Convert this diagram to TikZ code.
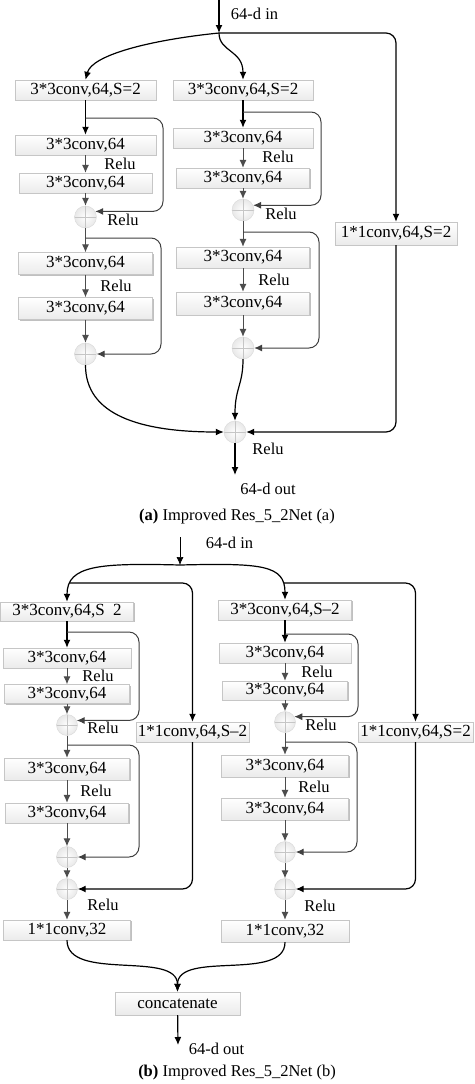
\documentclass[tikz,border=0pt]{standalone}
\usepackage{fontspec}
\setmainfont{Liberation Serif}
\usetikzlibrary{arrows.meta,shadows}
\begin{document}
\begin{tikzpicture}[x=1pt,y=-1pt,
  blk/.style={draw=gray!45, line width=0.4pt, top color=white, bottom color=gray!16,
    inner sep=0pt, minimum height=20pt, font=\fontsize{17}{19}\selectfont,
    drop shadow={shadow xshift=1.2pt,shadow yshift=-1.2pt,fill=gray!65,opacity=0.75}},
  sumc/.style={circle, minimum size=22pt, inner sep=0pt, draw=gray!30, inner color=white, outer color=gray!18,
    path picture={\draw[gray!45,line width=0.4pt] (path picture bounding box.west) -- (path picture bounding box.east)
      (path picture bounding box.north) -- (path picture bounding box.south);}},
  sumb/.style={sumc, minimum size=21pt},
  lbl/.style={font=\fontsize{16.5}{18}\selectfont, inner sep=0pt},
  tip/.style={-{Latex[length=8pt,width=7pt]}},
  main/.style={line width=1.2pt, black, tip},
  thin/.style={line width=0.7pt, black, tip},
  inner/.style={line width=1pt, black!70, tip},
  skip/.style={line width=1pt, black!75, rounded corners=10pt, tip},
  mskip/.style={line width=1.2pt, black, rounded corners=10pt, tip}
]
\fill[white] (0,0) rectangle (474,1084);
\useasboundingbox (0,0) rectangle (474,1084);

%%%%%%%%%%%%%%%% Part (a)
\node[blk, minimum width=141pt] (a1L) at (85.5,90) {3*3conv,64,S=2};
\node[blk, minimum width=140pt] (a1M) at (243,90) {3*3conv,64,S=2};
\node[blk, minimum width=141pt] (a2L) at (85.5,145) {3*3conv,64};
\node[blk, minimum width=133pt] (a3L) at (85.5,183) {3*3conv,64};
\node[sumc] (cL1) at (85.5,217) {};
\node[blk, minimum width=134pt, minimum height=22pt] (a4L) at (85.5,263.5) {3*3conv,64};
\node[blk, minimum width=134pt, minimum height=22pt] (a5L) at (85.5,308.5) {3*3conv,64};
\node[sumc] (cL2) at (85.5,354) {};
\node[blk, minimum width=140pt] (a2M) at (243,138) {3*3conv,64};
\node[blk, minimum width=133pt] (a3M) at (243,178) {3*3conv,64};
\node[sumc] (cM1) at (243,210) {};
\node[blk, minimum width=133pt, minimum height=21pt] (a4M) at (243,257.5) {3*3conv,64};
\node[blk, minimum width=133pt, minimum height=23pt] (a5M) at (243,303.5) {3*3conv,64};
\node[sumc] (cM2) at (243,348) {};
\node[blk, minimum width=122pt, minimum height=23pt] (aR) at (396,233.5) {1*1conv,64,S=2};
\node[sumc] (fin) at (235,432) {};

\coordinate (aTop) at (219,0);
\coordinate (J) at (219,33);
\coordinate (aOut) at (235,475);
\draw[main] (aTop) -- (J);
\node[lbl] (ainL) at (254.5,14) {64-d in};
\draw[main] (J) .. controls (150,40) and (92,55) .. (a1L.north);
\draw[main] (J) .. controls (219,52) and (243,50) .. (a1M.north);
\draw[mskip] (J) -- (J -| aR.north) -- (aR.north);
\draw[mskip] (aR.south) -- (aR.south |- fin) -- (fin.east);

\draw[main] (a1L) -- (a2L);
\draw[inner] (a2L) -- (a3L);
\draw[inner] (a3L) -- (cL1);
\draw[inner] (cL1) -- (a4L);
\draw[inner] (a4L) -- (a5L);
\draw[inner] (a5L) -- (cL2);
\draw[main] (a1M) -- (a2M);
\draw[inner] (a2M) -- (a3M);
\draw[inner] (a3M) -- (cM1);
\draw[inner] (cM1) -- (a4M);
\draw[inner] (a4M) -- (a5M);
\draw[inner] (a5M) -- (cM2);

\coordinate (sL1) at (85.5,118); \coordinate (kL1) at (163,216);
\coordinate (sL2) at (85.5,238); \coordinate (kL2) at (161,354);
\coordinate (sM1) at (243,112);  \coordinate (kM1) at (321,208);
\coordinate (sM2) at (243,232);  \coordinate (kM2) at (319,348);
\draw[skip] (sL1) -- (sL1 -| kL1) -- (kL1 |- cL1.30) -- (cL1.30);
\draw[skip] (sL2) -- (sL2 -| kL2) -- (kL2 |- cL2.east) -- (cL2.east);
\draw[skip] (sM1) -- (sM1 -| kM1) -- (kM1 |- cM1.25) -- (cM1.25);
\draw[skip] (sM2) -- (sM2 -| kM2) -- (kM2 |- cM2.east) -- (cM2.east);

\draw[main] (cL2.south) .. controls (85.5,415) and (140,432) .. (fin.west);
\draw[main] (cM2.south) .. controls (243,385) and (235,388) .. (fin.north);
\draw[main] (fin) -- (aOut);

\node[lbl] (rA1) at (120,164) {Relu};
\node[lbl] (rA2) at (123,220) {Relu};
\node[lbl] (rA3) at (116,286) {Relu};
\node[lbl] (rA4) at (278,157) {Relu};
\node[lbl] (rA5) at (281,214) {Relu};
\node[lbl] (rA6) at (274,280) {Relu};
\node[lbl] (rA7) at (268,449) {Relu};
\node[lbl] (aoutL) at (268,489) {64-d out};
\node[lbl] (capA) at (237,517) {\textbf{(a)} Improved Res\_5\_2Net (a)};

%%%%%%%%%%%%%%%% Part (b)
\node[blk, minimum width=133pt, minimum height=19pt] (b1L) at (67,611.5) {3*3conv,64,S\ \ 2};
\node[blk, minimum width=128pt] (b2L) at (67,658) {3*3conv,64};
\node[blk, minimum width=125pt, minimum height=19pt] (b3L) at (67,694) {3*3conv,64};
\node[sumb] (dL1) at (67,725) {};
\node[blk, minimum width=125pt, minimum height=22pt] (b4L) at (67,769) {3*3conv,64};
\node[blk, minimum width=123pt] (b5L) at (67,813) {3*3conv,64};
\node[sumb] (dL2) at (67,857) {};
\node[sumb] (dL3) at (67,889) {};
\node[blk, minimum width=127pt] (b6L) at (67,930) {1*1conv,32};
\node[blk, minimum width=113pt] (bS1) at (192.5,732) {1*1conv,64,S–2};

\node[blk, minimum width=133pt] (b1R) at (285,610) {3*3conv,64,S–2};
\node[blk, minimum width=132pt] (b2R) at (285,653) {3*3conv,64};
\node[blk, minimum width=125pt, minimum height=19pt] (b3R) at (285,690.5) {3*3conv,64};
\node[sumb] (dR1) at (285,722) {};
\node[blk, minimum width=127pt, minimum height=22pt] (b4R) at (285,766) {3*3conv,64};
\node[blk, minimum width=127pt, minimum height=22pt] (b5R) at (285,809) {3*3conv,64};
\node[sumb] (dR2) at (285,852) {};
\node[sumb] (dR3) at (285,889) {};
\node[blk, minimum width=128pt, minimum height=22pt] (b6R) at (285,931) {1*1conv,32};
\node[blk, minimum width=115pt] (bS2) at (415.5,732) {1*1conv,64,S=2};
\node[blk, minimum width=125pt, minimum height=23pt] (cat) at (177.5,1003.5) {concatenate};

\coordinate (bTop) at (180,537);
\coordinate (Jb) at (180,565);
\coordinate (bOut) at (178,1045);
\draw[thin] (bTop) -- (Jb);
\node[lbl] (binL) at (229.5,543) {64-d in};
\draw[main] (Jb) .. controls (100,563) and (67,565) .. (b1L.north);
\draw[main] (Jb) .. controls (262,563) and (285,565) .. (b1R.north);
\coordinate (tL) at (70,583);
\coordinate (tR) at (284,583);
\draw[mskip] (tL) -- (tL -| bS1.north) -- (bS1.north);
\draw[mskip] (tR) -- (tR -| bS2.north) -- (bS2.north);
\draw[mskip] (bS1.south) -- (bS1.south |- dL3) -- (dL3.east);
\draw[mskip] (bS2.south) -- (bS2.south |- dR3) -- (dR3.east);

\draw[main] (b1L) -- (b2L);
\draw[inner] (b2L) -- (b3L);
\draw[inner] (b3L) -- (dL1);
\draw[inner] (dL1) -- (b4L);
\draw[inner] (b4L) -- (b5L);
\draw[inner] (b5L) -- (dL2);
\draw[inner] (dL2) -- (dL3);
\draw[inner] (dL3) -- (b6L);
\draw[main] (b1R) -- (b2R);
\draw[inner] (b2R) -- (b3R);
\draw[inner] (b3R) -- (dR1);
\draw[inner] (dR1) -- (b4R);
\draw[inner] (b4R) -- (b5R);
\draw[inner] (b5R) -- (dR2);
\draw[inner] (dR2) -- (dR3);
\draw[inner] (dR3) -- (b6R);

\coordinate (uL1) at (67,632);  \coordinate (vL1) at (139,724);
\coordinate (uL2) at (67,745);  \coordinate (vL2) at (139,857);
\coordinate (uR1) at (285,634); \coordinate (vR1) at (358,721);
\coordinate (uR2) at (285,742); \coordinate (vR2) at (357,852);
\draw[skip] (uL1) -- (uL1 -| vL1) -- (vL1 |- dL1.25) -- (dL1.25);
\draw[skip] (uL2) -- (uL2 -| vL2) -- (vL2 |- dL2.east) -- (dL2.east);
\draw[skip] (uR1) -- (uR1 -| vR1) -- (vR1 |- dR1.30) -- (dR1.30);
\draw[skip] (uR2) -- (uR2 -| vR2) -- (vR2 |- dR2.east) -- (dR2.east);

\draw[main] (b6L.south) .. controls (67,982) and (177.5,950) .. (cat.north);
\draw[main] (b6R.south) .. controls (285,982) and (177.5,950) .. (cat.north);
\draw[main] (cat) -- (bOut);

\node[lbl] (rB1) at (98,676) {Relu};
\node[lbl] (rB2) at (103,728) {Relu};
\node[lbl] (rB3) at (96,791) {Relu};
\node[lbl] (rB4) at (103,905) {Relu};
\node[lbl] (rB5) at (317,672) {Relu};
\node[lbl] (rB6) at (321,725) {Relu};
\node[lbl] (rB7) at (314,787) {Relu};
\node[lbl] (rB8) at (320,906) {Relu};
\node[lbl] (boutL) at (216.5,1049) {64-d out};
\node[lbl] (capB) at (237,1073) {\textbf{(b)} Improved Res\_5\_2Net (b)};
\end{tikzpicture}
\end{document}
